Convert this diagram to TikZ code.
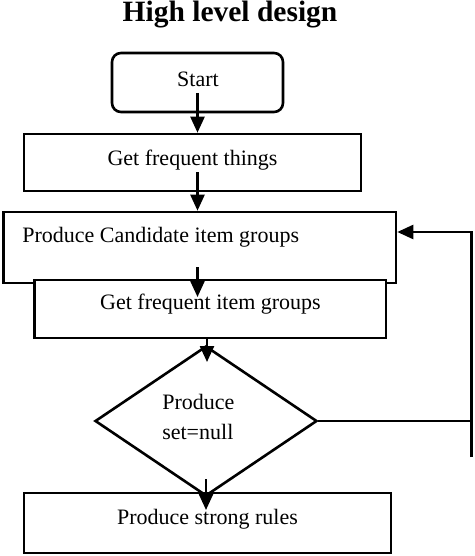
\documentclass[tikz,border=0pt]{standalone}
\usepackage{fontspec}
\setmainfont{Liberation Serif}
\usetikzlibrary{arrows.meta,shapes.geometric}
\begin{document}
\begin{tikzpicture}[x=1pt,y=-1pt,
  line width=2.6pt,
  boxst/.style={draw, rectangle, inner sep=0pt},
  txt/.style={anchor=base, inner sep=0pt, font=\fontsize{22}{30}\selectfont},
  arr/.style={-{Triangle[length=16pt,width=14pt]}, line width=2.4pt},
]
\useasboundingbox (0,0) rectangle (474,556);
\node[anchor=base, inner sep=0pt, font=\bfseries\fontsize{29.5}{34}\selectfont] (title) at (230,22) {High level design};
% boxes
\node[boxst, rounded corners=9pt, minimum width=171pt, minimum height=59pt] (start) at (197.5,82.5) {};
\node[txt] (tstart) at (198,87) {Start};
\node[boxst, minimum width=337pt, minimum height=57pt] (box2) at (192.5,162.5) {};
\node[txt] (t2) at (192.5,165) {Get frequent things};
\node[boxst, minimum width=392.5pt, minimum height=71pt] (box3) at (199.75,247.5) {};
\node[txt, anchor=base west] (t3) at (21,242) {Produce Candidate item groups};
\node[boxst, fill=white, minimum width=351.5pt, minimum height=58pt] (box4) at (210.25,309) {};
\node[txt] (t4) at (210.5,309) {Get frequent item groups};
\node[draw, diamond, inner sep=0pt, minimum width=222pt, minimum height=150pt] (dec) at (206,421) {};
\node[txt, anchor=base west] (t5a) at (161,409) {Produce};
\node[txt, anchor=base west] (t5b) at (161,439) {set=null};
\node[boxst, minimum width=367pt, minimum height=60pt] (box5) at (207.5,523) {};
\node[txt] (t6) at (207.5,524) {Produce strong rules};
% connectors
\coordinate (a1) at (197.5,93);
\draw[arr] (a1) -- (a1 |- box2.north);
\coordinate (a2) at (197.5,172);
\draw[arr] (a2) -- (a2 |- box3.north);
\coordinate (a3) at (197.5,267);
\coordinate (a3e) at (197.5,297);
\draw[arr] (a3) -- (a3e);
\coordinate (a4e) at (207,362);
\draw[arr] (a4e |- box4.south) -- (a4e);
\coordinate (a5) at (206,479);
\coordinate (a5e) at (206,510);
\draw[arr] (a5) -- (a5e);
\coordinate (fbb) at (471.5,457);
\coordinate (fbt) at (471.5,232);
\draw (dec.east) -- (fbb |- dec.east);
\draw[arr] (fbb) -- (fbt) -- (fbt -| box3.east);
\end{tikzpicture}
\end{document}
